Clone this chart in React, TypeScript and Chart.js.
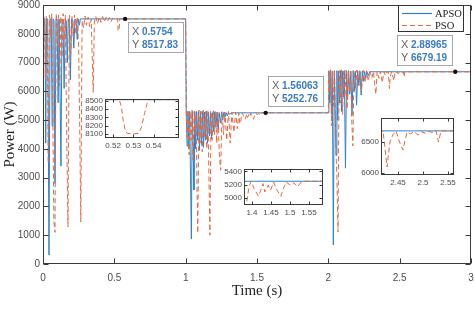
import React, { useEffect, useRef } from "react";
import { Chart, registerables } from "chart.js";
Chart.register(...registerables);

// ---------------- data ----------------
// APSO (blue, solid) – [time s, power W]
const APSO_SEG1: [number, number][] = [
  [0, 8000], [0.006, 8517], [0.014, 8517], [0.019, 4200], [0.025, 8517], [0.033, 8517],
  [0.042, 312], [0.05, 8517], [0.058, 8517], [0.064, 4800], [0.07, 8517], [0.077, 8450],
  [0.084, 2800], [0.091, 8517], [0.099, 8517], [0.106, 5600], [0.113, 8517], [0.119, 8517],
  [0.126, 3400], [0.133, 8517], [0.14, 8480], [0.148, 6100], [0.156, 8517], [0.163, 8450],
  [0.17, 7000], [0.177, 8517], [0.184, 8400], [0.192, 6400], [0.2, 8517], [0.208, 8480],
  [0.216, 7500], [0.224, 8517], [0.232, 8450], [0.24, 7800], [0.248, 8517], [0.255, 8300],
  [0.262, 8517], [1.0, 8517],
];
const APSO_SEG2: [number, number][] = [
  [1.004, 5300], [1.01, 4100], [1.016, 5300], [1.022, 4000], [1.028, 5300], [1.034, 3000],
  [1.04, 870], [1.046, 5300], [1.052, 4200], [1.058, 2570], [1.064, 5300], [1.07, 4000],
  [1.077, 5300], [1.084, 4300], [1.09, 5300], [1.097, 3950], [1.104, 5300], [1.111, 4150],
  [1.118, 5300], [1.125, 4050], [1.132, 5280], [1.139, 4300], [1.146, 5300], [1.153, 4200],
  [1.16, 5280], [1.167, 4450], [1.174, 5300], [1.181, 4350], [1.188, 5260], [1.196, 4600],
  [1.204, 5290], [1.212, 4750], [1.22, 5280], [1.228, 4650], [1.236, 5260], [1.244, 4900],
  [1.252, 5280], [1.26, 5000], [1.268, 5270], [1.276, 5100], [1.284, 5260], [1.292, 5150],
  [1.3, 5260], [1.31, 5200], [1.32, 5252.76], [2.0, 5252.76],
];
const APSO_SEG3: [number, number][] = [
  [2.004, 6720], [2.01, 5600], [2.016, 6720], [2.022, 5200], [2.028, 6700], [2.035, 660],
  [2.042, 6720], [2.048, 5400], [2.054, 3780], [2.06, 6720], [2.066, 5000], [2.072, 6700],
  [2.078, 5600], [2.085, 6720], [2.092, 5300], [2.098, 6700], [2.105, 5800], [2.112, 6720],
  [2.12, 3330], [2.128, 6700], [2.135, 5700], [2.142, 6720], [2.15, 5900], [2.158, 6700],
  [2.166, 5170], [2.174, 6720], [2.182, 6000], [2.19, 6700], [2.198, 5520], [2.206, 6710],
  [2.214, 6200], [2.222, 6690], [2.23, 5870], [2.238, 6700], [2.246, 6350], [2.254, 6690],
  [2.262, 6450], [2.27, 6685], [2.28, 6550], [2.29, 6679.19], [3.0, 6679.19],
];

// PSO (orange, dashed)
const PSO_SEG1: [number, number][] = [
  [0, 5700], [0.005, 8600], [0.011, 8350], [0.017, 6500], [0.023, 8600], [0.03, 8100],
  [0.037, 3500], [0.045, 8650], [0.053, 7900], [0.061, 8700], [0.068, 5500], [0.076, 1500],
  [0.084, 1100], [0.093, 8700], [0.101, 7600], [0.109, 8650], [0.117, 6200], [0.125, 8600],
  [0.133, 7200], [0.141, 8700], [0.149, 7800], [0.157, 8650], [0.166, 4500], [0.175, 1290],
  [0.185, 8650], [0.194, 7300], [0.203, 8600], [0.212, 7900], [0.221, 8650], [0.23, 8000],
  [0.24, 8600], [0.25, 7500], [0.258, 4500], [0.265, 1460], [0.274, 8450], [0.284, 8200],
  [0.294, 8620], [0.305, 8300], [0.316, 8580], [0.327, 8250], [0.338, 8500], [0.345, 7200],
  [0.352, 5970], [0.36, 8400], [0.37, 8600], [0.382, 8350], [0.394, 8580], [0.406, 8400],
  [0.418, 8600], [0.43, 8420], [0.442, 8580], [0.454, 8450], [0.466, 8570], [0.478, 8430],
  [0.49, 8550], [0.5, 8517], [0.523, 8517], [0.524, 8440], [0.525, 8260], [0.526, 8140],
  [0.527, 8105], [0.53, 8100], [0.5325, 8105], [0.534, 8180], [0.5355, 8350], [0.5368, 8470],
  [0.538, 8517], [1.0, 8517],
];
const PSO_SEG2: [number, number][] = [
  [1.004, 5350], [1.01, 4400], [1.017, 5350], [1.024, 3800], [1.031, 5300], [1.038, 4300],
  [1.045, 5350], [1.052, 3600], [1.059, 5300], [1.066, 4500], [1.073, 5200], [1.08, 2500],
  [1.085, 1070], [1.093, 5350], [1.1, 4200], [1.108, 5300], [1.116, 3900], [1.124, 5350],
  [1.132, 4400], [1.14, 5300], [1.148, 4000], [1.156, 5350], [1.163, 3000], [1.17, 1000],
  [1.178, 5300], [1.186, 4300], [1.194, 5330], [1.202, 4500], [1.21, 5300], [1.218, 4200],
  [1.226, 5300], [1.236, 3800], [1.245, 3260], [1.255, 5300], [1.265, 4500], [1.275, 5280],
  [1.288, 4300], [1.3, 5300], [1.312, 4200], [1.324, 5280], [1.338, 4580], [1.35, 5270],
  [1.362, 4700], [1.372, 5250], [1.379, 4870], [1.386, 4950], [1.393, 5193], [1.398, 5250],
  [1.405, 5150], [1.417, 5030], [1.423, 5120], [1.429, 5217], [1.434, 5093], [1.443, 5193],
  [1.449, 5120], [1.457, 5241], [1.466, 5120], [1.476, 5030], [1.483, 5150], [1.49, 5241],
  [1.502, 5193], [1.51, 5230], [1.52, 5170], [1.53, 5245], [1.54, 5252.76], [2.0, 5252.76],
];
const PSO_SEG3: [number, number][] = [
  [2.004, 6750], [2.01, 6000], [2.016, 6750], [2.023, 4800], [2.03, 6700], [2.037, 5500],
  [2.044, 6750], [2.052, 4200], [2.06, 3000], [2.068, 1110], [2.076, 6720], [2.084, 5600],
  [2.092, 6750], [2.1, 5200], [2.108, 6700], [2.116, 5800], [2.124, 6740], [2.132, 5400],
  [2.14, 6700], [2.148, 6000], [2.156, 6740], [2.164, 5000], [2.172, 4100], [2.18, 6720],
  [2.19, 6100], [2.2, 6740], [2.21, 6200], [2.22, 6720], [2.232, 6000], [2.244, 6730],
  [2.256, 6300], [2.268, 6720], [2.28, 6350], [2.292, 6700], [2.305, 6450], [2.316, 6690],
  [2.326, 6200], [2.333, 5900], [2.342, 6690], [2.354, 6450], [2.366, 6690], [2.378, 6300],
  [2.39, 6685], [2.4, 6550], [2.41, 6679], [2.42, 6679], [2.424, 6400], [2.428, 6097],
  [2.431, 6300], [2.434, 6500], [2.44, 6620], [2.446, 6679], [2.453, 6500], [2.46, 6370],
  [2.464, 6520], [2.468, 6660], [2.475, 6630], [2.482, 6670], [2.49, 6610], [2.497, 6665],
  [2.505, 6640], [2.512, 6670], [2.52, 6650], [2.526, 6679], [2.531, 6500], [2.536, 6679.19],
  [3.0, 6679.19],
];

const SERIES_NAMES = ["APSO", "PSO"];

// data tips
const TIP_T = [0.5754, 1.56063, 2.88965];
const TIP_P = [8517.83, 5252.76, 6679.19];

// main axes
const X_RANGE = [0, 3];
const Y_RANGE = [0, 9000];
const X_TICKS = [0, 0.5, 1, 1.5, 2, 2.5, 3];
const Y_TICKS = [0, 1000, 2000, 3000, 4000, 5000, 6000, 7000, 8000, 9000];

// insets
const INSET1_X = [0.516, 0.5525];
const INSET1_Y = [8050, 8525];
const INSET1_XT = [0.52, 0.53, 0.54];
const INSET1_YT = [8100, 8200, 8300, 8400, 8500];
const INSET2_X = [1.379, 1.587];
const INSET2_Y = [4900, 5435];
const INSET2_XT = [1.4, 1.45, 1.5, 1.55];
const INSET2_YT = [5000, 5200, 5400];
const INSET3_X = [2.416, 2.562];
const INSET3_Y = [5968, 6887];
const INSET3_XT = [2.45, 2.5, 2.55];
const INSET3_YT = [6000, 6500];

// ---------------- styles ----------------
const W = 474;
const H = 323;
const SANS = '"Liberation Sans", Arial, sans-serif';
const SERIF = '"Liberation Serif", "Times New Roman", serif';
const BLUE = "#2f80c8";
const ORANGE = "#e06a42";
const AXIS = "#3a3a3a";
const TICK_TXT = "#4d4d4d";
const TIP_PLACE = ["se", "ne", "nw"];

const toXY = (pairs: [number, number][]) => pairs.map(([x, y]) => ({ x, y }));
const APSO_DATA = toXY([...APSO_SEG1, ...APSO_SEG2, ...APSO_SEG3]);
const PSO_DATA = toXY([...PSO_SEG1, ...PSO_SEG2, ...PSO_SEG3]);

function lineDatasets(width: number) {
  return [
    {
      label: SERIES_NAMES[1],
      data: PSO_DATA,
      borderColor: ORANGE,
      borderWidth: width,
      borderDash: [5, 3],
      pointRadius: 0,
      tension: 0,
      fill: false,
      order: 1,
    },
    {
      label: SERIES_NAMES[0],
      data: APSO_DATA,
      borderColor: BLUE,
      borderWidth: width,
      pointRadius: 0,
      tension: 0,
      fill: false,
      order: 2,
    },
  ];
}

function framePlugin(xt: number[], yt: number[], len: number, fillBg: boolean) {
  return {
    id: "frame",
    beforeDatasetsDraw(chart: any) {
      if (!fillBg) return;
      const { ctx, chartArea: a } = chart;
      ctx.save();
      ctx.fillStyle = "#fff";
      ctx.fillRect(a.left, a.top, a.right - a.left, a.bottom - a.top);
      ctx.restore();
    },
    afterDatasetsDraw(chart: any) {
      const { ctx, chartArea: a, scales } = chart;
      const L = Math.round(a.left) + 0.5;
      const R = Math.round(a.right) - 0.5;
      const T = Math.round(a.top) + 0.5;
      const B = Math.round(a.bottom) - 0.5;
      ctx.save();
      ctx.setLineDash([]);
      ctx.strokeStyle = AXIS;
      ctx.lineWidth = 1;
      ctx.strokeRect(L, T, R - L, B - T);
      ctx.beginPath();
      xt.forEach((v) => {
        const px = Math.round(scales.x.getPixelForValue(v)) + 0.5;
        ctx.moveTo(px, B);
        ctx.lineTo(px, B - len);
        ctx.moveTo(px, T);
        ctx.lineTo(px, T + len);
      });
      yt.forEach((v) => {
        const py = Math.round(scales.y.getPixelForValue(v)) + 0.5;
        ctx.moveTo(L, py);
        ctx.lineTo(L + len, py);
        ctx.moveTo(R, py);
        ctx.lineTo(R - len, py);
      });
      ctx.stroke();
      ctx.restore();
    },
  };
}

const tipPlugin = {
  id: "tips",
  afterDatasetsDraw(chart: any) {
    const { ctx, scales } = chart;
    ctx.save();
    ctx.setLineDash([]);
    TIP_T.forEach((t, i) => {
      const px = scales.x.getPixelForValue(t);
      const py = scales.y.getPixelForValue(TIP_P[i]);
      const xs = String(t);
      const ys = String(TIP_P[i]);
      ctx.font = `bold 10px ${SANS}`;
      const vw = Math.max(ctx.measureText(xs).width, ctx.measureText(ys).width);
      const w = Math.round(14 + vw + 6);
      const h = 31;
      let left = px + 3;
      let top = py + 3;
      if (TIP_PLACE[i] === "ne") {
        left = px + 2;
        top = py - 37;
      } else if (TIP_PLACE[i] === "nw") {
        left = px - 2 - w;
        top = py - 37;
      }
      left = Math.round(left);
      top = Math.round(top);
      ctx.fillStyle = "rgba(255,255,255,0.95)";
      ctx.fillRect(left, top, w, h);
      ctx.strokeStyle = "#a8a8a8";
      ctx.lineWidth = 1;
      ctx.strokeRect(left + 0.5, top + 0.5, w - 1, h - 1);
      ctx.textBaseline = "middle";
      ctx.textAlign = "left";
      ctx.font = `11px ${SANS}`;
      ctx.fillStyle = "#666";
      ctx.fillText("X", left + 4, top + 10);
      ctx.fillText("Y", left + 4, top + 23);
      ctx.font = `bold 10px ${SANS}`;
      ctx.fillStyle = "#3a7cc4";
      ctx.fillText(xs, left + 14, top + 10);
      ctx.fillText(ys, left + 14, top + 23);
      // marker
      ctx.fillStyle = "#111";
      ctx.beginPath();
      ctx.arc(px, py, 2.2, 0, Math.PI * 2);
      ctx.fill();
    });
    ctx.restore();
  },
};

const legendPlugin = {
  id: "mlegend",
  afterDraw(chart: any) {
    const { ctx, chartArea: a } = chart;
    const w = 66;
    const h = 27;
    const left = Math.round(a.right) - 7 - w;
    const top = Math.round(a.top);
    ctx.save();
    ctx.fillStyle = "#fff";
    ctx.fillRect(left, top, w, h);
    ctx.strokeStyle = "#333";
    ctx.lineWidth = 1;
    ctx.setLineDash([]);
    ctx.strokeRect(left + 0.5, top + 0.5, w - 1, h - 1);
    const rows = [
      { name: SERIES_NAMES[0], color: BLUE, dash: [] as number[] },
      { name: SERIES_NAMES[1], color: ORANGE, dash: [5, 3] },
    ];
    rows.forEach((r, i) => {
      const y = top + 8.5 + i * 12;
      ctx.strokeStyle = r.color;
      ctx.lineWidth = 1.2;
      ctx.setLineDash(r.dash);
      ctx.beginPath();
      ctx.moveTo(left + 4, y);
      ctx.lineTo(left + 34, y);
      ctx.stroke();
      ctx.setLineDash([]);
      ctx.fillStyle = "#222";
      ctx.font = `10.5px ${SERIF}`;
      ctx.textBaseline = "middle";
      ctx.textAlign = "left";
      ctx.fillText(r.name, left + 37, y + 0.5);
    });
    ctx.restore();
  },
};

function MainChart() {
  const ref = useRef<HTMLCanvasElement>(null);
  useEffect(() => {
    if (!ref.current) return;
    const chart = new Chart(ref.current, {
      type: "line",
      data: { datasets: lineDatasets(1) as any },
      options: {
        animation: false,
        responsive: false,
        events: [],
        layout: { padding: { left: 0, top: 5, right: 3, bottom: 0 } },
        plugins: { legend: { display: false }, tooltip: { enabled: false } },
        scales: {
          x: {
            type: "linear",
            min: X_RANGE[0],
            max: X_RANGE[1],
            grid: { display: false, drawTicks: false },
            border: { display: false },
            ticks: {
              font: { family: SANS, size: 10 },
              color: TICK_TXT,
              padding: 8,
              maxRotation: 0,
              autoSkip: false,
              callback: (v: any) => String(v),
            },
            title: {
              display: true,
              text: "Time (s)",
              font: { family: SERIF, size: 15 },
              color: "#222",
              padding: { top: 0, bottom: 23 },
            },
            afterBuildTicks: (s: any) => {
              s.ticks = X_TICKS.map((v) => ({ value: v }));
            },
            afterFit: (s: any) => {
              s.height = 59;
              s.paddingLeft = 0;
              s.paddingRight = 0;
            },
          },
          y: {
            type: "linear",
            min: Y_RANGE[0],
            max: Y_RANGE[1],
            grid: { display: false, drawTicks: false },
            border: { display: false },
            ticks: {
              font: { family: SANS, size: 10 },
              color: TICK_TXT,
              padding: 3,
              autoSkip: false,
              callback: (v: any) => String(v),
            },
            title: {
              display: true,
              text: "Power (W)",
              font: { family: SERIF, size: 15 },
              color: "#222",
              padding: { top: 1, bottom: 0 },
            },
            afterBuildTicks: (s: any) => {
              s.ticks = Y_TICKS.map((v) => ({ value: v }));
            },
            afterFit: (s: any) => {
              s.width = 43;
              s.paddingTop = 0;
              s.paddingBottom = 0;
            },
          },
        },
      } as any,
      plugins: [framePlugin(X_TICKS, Y_TICKS, 5, false), tipPlugin, legendPlugin],
    });
    return () => chart.destroy();
  }, []);
  return (
    <canvas
      ref={ref}
      width={W}
      height={H}
      style={{ position: "absolute", left: 0, top: 0, width: W, height: H }}
    />
  );
}

type InsetSpec = {
  xr: number[];
  yr: number[];
  xt: number[];
  yt: number[];
  box: { left: number; top: number; w: number; h: number };
};

const INSETS: InsetSpec[] = [
  { xr: INSET1_X, yr: INSET1_Y, xt: INSET1_XT, yt: INSET1_YT, box: { left: 105, top: 99, w: 74, h: 39 } },
  { xr: INSET2_X, yr: INSET2_Y, xt: INSET2_XT, yt: INSET2_YT, box: { left: 244, top: 169, w: 79, h: 36 } },
  { xr: INSET3_X, yr: INSET3_Y, xt: INSET3_XT, yt: INSET3_YT, box: { left: 381, top: 118, w: 73, h: 57 } },
];

function Inset({ spec }: { spec: InsetSpec }) {
  const ref = useRef<HTMLCanvasElement>(null);
  const padL = 28;
  const padT = 3;
  const padR = 6;
  const padB = 14;
  const cw = spec.box.w + padL + padR;
  const ch = spec.box.h + padT + padB;
  useEffect(() => {
    if (!ref.current) return;
    const chart = new Chart(ref.current, {
      type: "line",
      data: { datasets: lineDatasets(1) as any },
      options: {
        animation: false,
        responsive: false,
        events: [],
        layout: { padding: { left: 0, top: padT, right: padR, bottom: 0 } },
        plugins: { legend: { display: false }, tooltip: { enabled: false } },
        scales: {
          x: {
            type: "linear",
            min: spec.xr[0],
            max: spec.xr[1],
            grid: { display: false, drawTicks: false },
            border: { display: false },
            ticks: {
              font: { family: SANS, size: 8 },
              color: TICK_TXT,
              padding: 3,
              maxRotation: 0,
              autoSkip: false,
              callback: (v: any) => String(v),
            },
            afterBuildTicks: (s: any) => {
              s.ticks = spec.xt.map((v) => ({ value: v }));
            },
            afterFit: (s: any) => {
              s.height = padB;
              s.paddingLeft = 0;
              s.paddingRight = 0;
            },
          },
          y: {
            type: "linear",
            min: spec.yr[0],
            max: spec.yr[1],
            grid: { display: false, drawTicks: false },
            border: { display: false },
            ticks: {
              font: { family: SANS, size: 8 },
              color: TICK_TXT,
              padding: 2,
              autoSkip: false,
              callback: (v: any) => String(v),
            },
            afterBuildTicks: (s: any) => {
              s.ticks = spec.yt.map((v) => ({ value: v }));
            },
            afterFit: (s: any) => {
              s.width = padL;
              s.paddingTop = 0;
              s.paddingBottom = 0;
            },
          },
        },
      } as any,
      plugins: [framePlugin(spec.xt, spec.yt, 3, true)],
    });
    return () => chart.destroy();
  }, []);
  return (
    <canvas
      ref={ref}
      width={cw}
      height={ch}
      style={{
        position: "absolute",
        left: spec.box.left - padL,
        top: spec.box.top - padT,
        width: cw,
        height: ch,
      }}
    />
  );
}

export default function App() {
  return (
    <div
      style={{
        position: "absolute",
        left: 0,
        top: 0,
        width: W,
        height: H,
        background: "#fff",
        overflow: "hidden",
      }}
    >
      <MainChart />
      {INSETS.map((s, i) => (
        <Inset key={i} spec={s} />
      ))}
    </div>
  );
}
